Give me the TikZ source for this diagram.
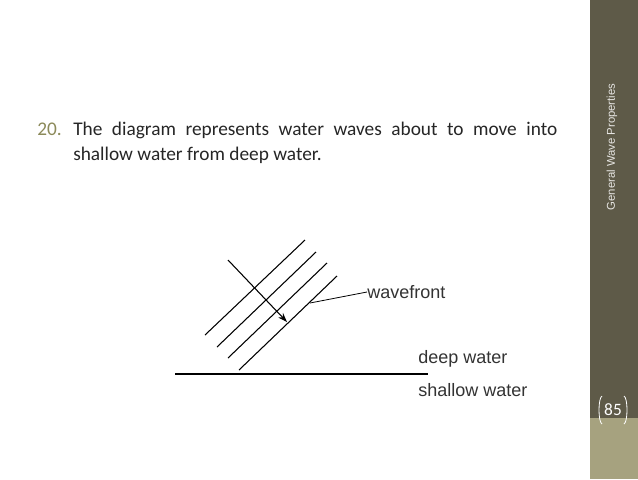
\documentclass[tikz,border=0pt]{standalone}
\usepackage{fontspec}
\setmainfont{Carlito}
\newfontfamily\arialf{Liberation Sans}
\usetikzlibrary{arrows.meta}
\definecolor{side}{HTML}{5E5A48}
\definecolor{sidelt}{HTML}{A6A27F}
\definecolor{num}{HTML}{8C8A5A}
\begin{document}
\begin{tikzpicture}[x=0.75pt,y=-0.75pt,
  wave/.style={line width=0.8pt},
  lbl/.style={font=\arialf\fontsize{13.5}{15}\selectfont, text=black!80, inner sep=0pt, anchor=west}]
\useasboundingbox (0,0) rectangle (638,479);
\fill[white] (0,0) rectangle (638,479);
\fill[side] (590,0) rectangle (638,418);
\fill[sidelt] (590,418) rectangle (638,479);
\node[rotate=90, text=white!85!side, font=\arialf\fontsize{8.5}{9}\selectfont, inner sep=0pt] (side) at (612,147) {General Wave Properties};
\node[text=white, font=\fontsize{13}{14}\selectfont, inner sep=2pt] (pg) at (613,410) {85};
\draw[white, line width=0.6pt] (602,396) .. controls (598,398) and (598,422) .. (602,424);
\draw[white, line width=0.6pt] (624,396) .. controls (628,398) and (628,422) .. (624,424);
\node[anchor=base west, text=num, font=\fontsize{14.5}{16}\selectfont, inner sep=0pt] (n) at (37,135) {20.};
\node[anchor=base west, font=\fontsize{14.5}{16}\selectfont, text=black!85, inner sep=0pt] (q1) at (73,135)
{\makebox[363pt][s]{The diagram represents water waves about to move into}};
\node[anchor=base west, font=\fontsize{14.5}{16}\selectfont, text=black!85, inner sep=0pt] (q2) at (73,160)
{shallow water from deep water.};
\coordinate (a1) at (205,335); \coordinate (b1) at (305,240);
\coordinate (a2) at (217,347); \coordinate (b2) at (316,252);
\coordinate (a3) at (228,358); \coordinate (b3) at (327,263);
\coordinate (a4) at (239,370); \coordinate (b4) at (337,276);
\draw[wave] (a1) -- (b1); \draw[wave] (a2) -- (b2);
\draw[wave] (a3) -- (b3); \draw[wave] (a4) -- (b4);
\coordinate (r0) at (228,260); \coordinate (r1) at (287,322);
\draw[wave, -{Stealth[length=7pt,width=5pt]}] (r0) -- (r1);
\node[lbl] (wf) at (367,292) {wavefront};
\coordinate (lp) at (310,303);
\draw[line width=0.6pt] (lp) -- (wf.west);
\coordinate (s0) at (175,374); \coordinate (s1) at (428,374);
\draw[line width=1.2pt] (s0) -- (s1);
\node[lbl] (dw) at (418,359) {deep water};
\node[lbl] (sw) at (418,390) {shallow water};
\end{tikzpicture}
\end{document}
